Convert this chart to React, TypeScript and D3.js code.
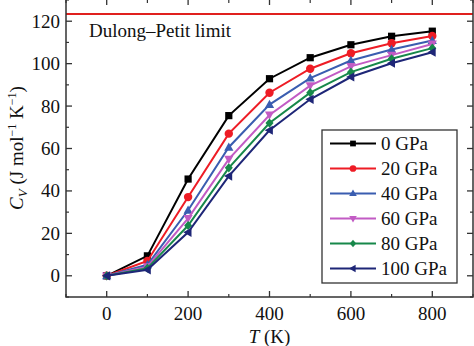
import React from "react";
import * as d3 from "d3";

const temperatures = [0, 100, 200, 300, 400, 500, 600, 700, 800];
const seriesNames = ["0 GPa", "20 GPa", "40 GPa", "60 GPa", "80 GPa", "100 GPa"];
const cv0 = [0, 9.4, 45.6, 75.5, 92.9, 102.8, 108.9, 112.9, 115.3];
const cv20 = [0, 7.0, 37.1, 67.0, 86.3, 97.6, 104.9, 109.6, 113.0];
const cv40 = [0, 5.2, 30.9, 60.6, 80.7, 93.2, 101.5, 106.7, 110.9];
const cv60 = [0, 4.3, 27.1, 55.0, 75.8, 89.6, 98.7, 104.0, 109.3];
const cv80 = [0, 3.6, 23.7, 50.9, 72.0, 86.3, 96.0, 102.3, 107.3];
const cv100 = [0, 2.8, 20.5, 47.0, 68.6, 83.2, 93.7, 100.2, 105.4];
const seriesValues = [cv0, cv20, cv40, cv60, cv80, cv100];
const seriesColors = ["#000000", "#ee1c25", "#3a5db0", "#c25bc4", "#17884a", "#1e2677"];
const seriesSymbols = ["square", "circle", "up", "down", "diamond", "left"];
const dulongPetit = 123.4;
const xTicks = [0, 200, 400, 600, 800];
const xMinorTicks = [-100, 100, 300, 500, 700, 900];
const yTicks = [0, 20, 40, 60, 80, 100, 120];
const yMinorTicks = [-10, 10, 30, 50, 70, 90, 110, 130];

const W = 474;
const H = 346;
const L = 66, R = 473, T = 0, B = 297;
const x = d3.scaleLinear().domain([-100, 900]).range([L, R]);
const y = d3.scaleLinear().domain([-10, 130]).range([B, T]);
const FONT = "'Liberation Serif', 'Times New Roman', serif";
const FS = 19;

function Marker({ kind, cx, cy, color, k = 1 }: { kind: string; cx: number; cy: number; color: string; k?: number }) {
  const s = 4 * k;
  if (kind === "square") return <rect x={cx - 3.6 * k} y={cy - 3.6 * k} width={7.2 * k} height={7.2 * k} fill={color} />;
  if (kind === "circle") return <circle cx={cx} cy={cy} r={4.2 * k} fill={color} />;
  let pts = "";
  if (kind === "up") pts = `${cx},${cy - s - 0.8} ${cx + s + 0.6},${cy + s - 0.6} ${cx - s - 0.6},${cy + s - 0.6}`;
  if (kind === "down") pts = `${cx},${cy + s + 0.8} ${cx + s + 0.6},${cy - s + 0.6} ${cx - s - 0.6},${cy - s + 0.6}`;
  if (kind === "diamond") pts = `${cx},${cy - s - 0.6} ${cx + s},${cy} ${cx},${cy + s + 0.6} ${cx - s},${cy}`;
  if (kind === "left") pts = `${cx - s - 0.8},${cy} ${cx + s - 0.6},${cy - s - 0.6} ${cx + s - 0.6},${cy + s + 0.6}`;
  return <polygon points={pts} fill={color} />;
}

export default function App() {
  const line = d3
    .line<number>()
    .x((_, i) => x(temperatures[i]))
    .y((d) => y(d));
  const legendX = 322, legendY = 130, legendW = 135, legendH = 153;
  const rowH = 25;
  return (
    <div style={{ position: "absolute", left: 0, top: 0 }}>
      <svg width={W} height={H} style={{ display: "block", background: "#fff" }} fontFamily={FONT}>
        {seriesValues.map((vals, si) => (
          <g key={si}>
            <path d={line(vals) || ""} fill="none" stroke={seriesColors[si]} strokeWidth={2} />
            {vals.map((v, i) => (
              <Marker key={i} kind={seriesSymbols[si]} cx={x(temperatures[i])} cy={y(v)} color={seriesColors[si]} />
            ))}
          </g>
        ))}
        <line x1={L} x2={R} y1={y(dulongPetit)} y2={y(dulongPetit)} stroke="#e0201e" strokeWidth={2} />
        <text x={89} y={37} fontSize={FS} fill="#111">Dulong–Petit limit</text>
        <rect x={L} y={T - 3} width={R - L} height={B - T + 3} fill="none" stroke="#333" strokeWidth={1.5} />
        {xTicks.map((t) => (
          <g key={"xt" + t}>
            <line x1={x(t)} x2={x(t)} y1={B} y2={B - 6} stroke="#333" strokeWidth={1.3} />
            <line x1={x(t)} x2={x(t)} y1={T} y2={T + 5} stroke="#333" strokeWidth={1.3} />
            <text x={x(t)} y={320} fontSize={FS} textAnchor="middle" fill="#111">{t}</text>
          </g>
        ))}
        {xMinorTicks.map((t) => (
          <g key={"xm" + t}>
            <line x1={x(t)} x2={x(t)} y1={B} y2={B - 3} stroke="#333" strokeWidth={1.2} />
            <line x1={x(t)} x2={x(t)} y1={T} y2={T + 3} stroke="#333" strokeWidth={1.2} />
          </g>
        ))}
        {yTicks.map((t) => (
          <g key={"yt" + t}>
            <line x1={L} x2={L + 6} y1={y(t)} y2={y(t)} stroke="#333" strokeWidth={1.3} />
            <line x1={R} x2={R - 6} y1={y(t)} y2={y(t)} stroke="#333" strokeWidth={1.3} />
            <text x={60} y={y(t) + 6.5} fontSize={FS} textAnchor="end" fill="#111">{t}</text>
          </g>
        ))}
        {yMinorTicks.map((t) => (
          <g key={"ym" + t}>
            <line x1={L} x2={L + 3} y1={y(t)} y2={y(t)} stroke="#333" strokeWidth={1.2} />
            <line x1={R} x2={R - 3} y1={y(t)} y2={y(t)} stroke="#333" strokeWidth={1.2} />
          </g>
        ))}
        <text x={(L + R) / 2} y={343} fontSize={FS} textAnchor="middle" fill="#111">
          <tspan fontStyle="italic">T</tspan> (K)
        </text>
        <text transform="translate(23,148) rotate(-90)" fontSize={FS} textAnchor="middle" fill="#111">
          <tspan fontStyle="italic">C</tspan>
          <tspan fontStyle="italic" fontSize={13} dy={4}>V</tspan>
          <tspan dy={-4}>{"  (J mol"}</tspan>
          <tspan fontSize={12} dy={-7}>−1</tspan>
          <tspan dy={7}>{" K"}</tspan>
          <tspan fontSize={12} dy={-7}>−1</tspan>
          <tspan dy={7}>)</tspan>
        </text>
        <rect x={legendX} y={legendY} width={legendW} height={legendH} fill="#fff" stroke="#333" strokeWidth={1.3} />
        {seriesNames.map((name, i) => {
          const cy = legendY + 13.5 + i * rowH;
          return (
            <g key={name}>
              <line x1={330} x2={376} y1={cy} y2={cy} stroke={seriesColors[i]} strokeWidth={2} />
              <Marker kind={seriesSymbols[i]} cx={353} cy={cy} color={seriesColors[i]} k={0.8} />
              <text x={381} y={cy + 6.5} fontSize={FS} fill="#111">{name}</text>
            </g>
          );
        })}
      </svg>
    </div>
  );
}
